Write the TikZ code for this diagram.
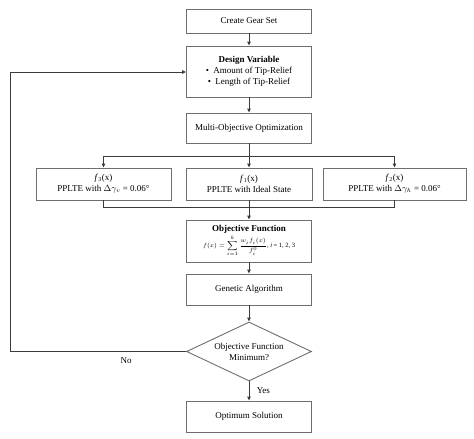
\documentclass[tikz,border=0pt]{standalone}
\usepackage{amsmath}
\usepackage{fontspec}
\setmainfont{Liberation Serif}
\usetikzlibrary{shapes.geometric,arrows.meta}
\definecolor{boxgray}{RGB}{110,110,110}
\definecolor{linegray}{RGB}{60,60,60}
\tikzset{
  procbox/.style={draw=boxgray, line width=0.9pt, fill=white, align=center, inner sep=0pt, font=\fontsize{9}{11}\selectfont},
  decbox/.style={draw=boxgray, line width=0.9pt, fill=white, align=center, diamond, aspect=2.1, inner sep=0pt, font=\fontsize{9}{11}\selectfont},
  conn/.style={draw=linegray, line width=0.9pt},
  arr/.style={conn, -{Triangle[length=4pt,width=3.5pt]}},
  lbl/.style={font=\fontsize{9}{11}\selectfont}
}
\begin{document}
\begin{tikzpicture}[x=1pt,y=-1pt]
\useasboundingbox (0,0) rectangle (474,439);
\node[procbox, minimum width=125pt, minimum height=24pt] (gear) at (249,21) {Create Gear Set};
\node[procbox, minimum width=125pt, minimum height=51pt] (dv) at (249,71.5) {\textbf{Design Variable}\\ \textbullet\ \ Amount of Tip-Relief\\ \textbullet\ \ Length of Tip-Relief};
\node[procbox, minimum width=125pt, minimum height=30pt] (moo) at (249,128) {Multi-Objective Optimization};
\node[procbox, minimum width=135pt, minimum height=32pt] (f3) at (103.5,184) {\textit{f}\textsubscript{3}(x)\\ PPLTE with $\Delta\gamma_v$ = 0.06°};
\node[procbox, minimum width=126pt, minimum height=32pt] (f1) at (249,184) {\textit{f}\textsubscript{1}(x)\\ PPLTE with Ideal State};
\node[procbox, minimum width=143pt, minimum height=32pt] (f2) at (394.5,184) {\textit{f}\textsubscript{2}(x)\\ PPLTE with $\Delta\gamma_h$ = 0.06°};
\node[procbox, minimum width=125pt, minimum height=42pt] (obj) at (249,241) {\textbf{Objective Function}\\[1pt] {\fontsize{6.5}{7}\selectfont $\displaystyle f(x)=\sum_{i=1}^{k}\frac{w_i f_i(x)}{f_i^{0}}$, \textit{i} = 1, 2, 3}};
\node[procbox, minimum width=125pt, minimum height=31pt] (ga) at (249,289.5) {Genetic Algorithm};
\node[decbox, minimum width=125pt, minimum height=59pt] (dec) at (249,351.5) {Objective Function\\ Minimum?};
\node[procbox, minimum width=125pt, minimum height=31pt] (opt) at (249,416.5) {Optimum Solution};
\coordinate (split) at (249,156);
\coordinate (merge) at (249,207);
\coordinate (loopb) at (10,351.5);
\coordinate (loopt) at (10,72);
\draw[arr] (gear) -- (dv);
\draw[arr] (dv) -- (moo);
\draw[conn] (moo) -- (split);
\draw[arr] (split) -- (f1);
\draw[arr] (split) -| (f3);
\draw[arr] (split) -| (f2);
\draw[conn] (f3.south) |- (merge);
\draw[conn] (f2.south) |- (merge);
\draw[conn] (f1) -- (merge);
\draw[arr] (merge) -- (obj);
\draw[arr] (obj) -- (ga);
\draw[arr] (ga) -- (dec);
\draw[arr] (dec) -- node[lbl, right=4pt, pos=0.5] {Yes} (opt);
\draw[conn] (dec.west) -- node[lbl, below=2pt, pos=0.34] {No} (loopb) -- (loopt);
\draw[arr] (loopt) -- (loopt -| dv.west);
\end{tikzpicture}
\end{document}
